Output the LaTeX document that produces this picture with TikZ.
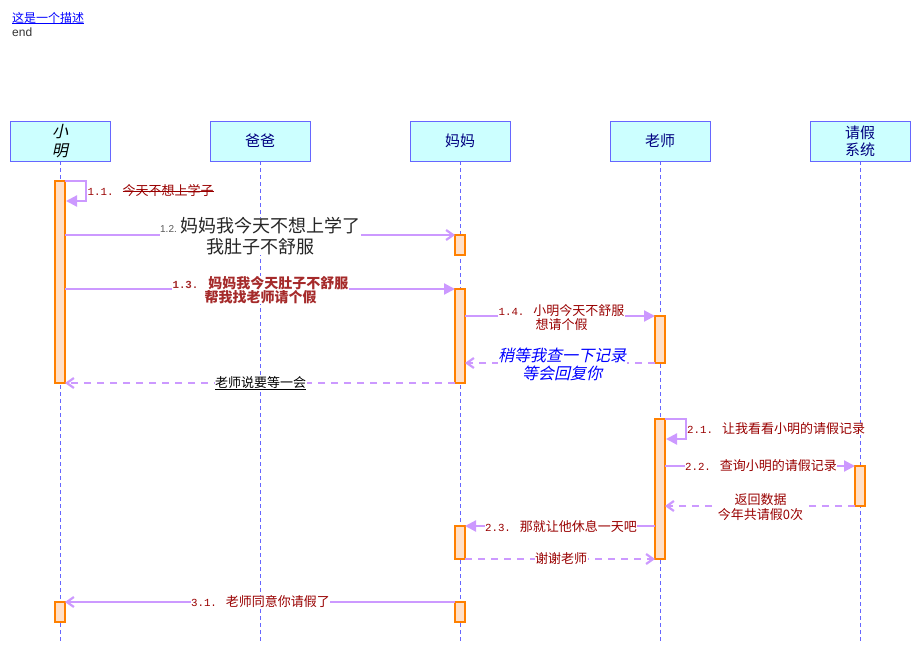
\documentclass[tikz,border=0pt]{standalone}
\usepackage{fontspec}
\setmainfont{Noto Sans CJK SC}
\newfontfamily\slantcjk[FakeSlant=0.22]{Noto Sans CJK SC}
\newfontfamily\monof{Liberation Mono}
\newfontfamily\arialf{Liberation Sans}
\usetikzlibrary{arrows.meta}
\definecolor{actorfill}{HTML}{CCFFFF}
\definecolor{actorline}{HTML}{6666FF}
\definecolor{actortext}{HTML}{000080}
\definecolor{barfill}{HTML}{FFE0C8}
\definecolor{barline}{HTML}{FF8000}
\definecolor{msgline}{HTML}{CC99FF}
\definecolor{msgtext}{HTML}{990000}
\definecolor{boldtext}{HTML}{A52A2A}
\newcommand{\fs}[2]{\fontsize{#1}{#2}\selectfont}
\newcommand{\num}[1]{{\monof\fontsize{10.8}{14}\selectfont #1}\hspace{9pt}}
\newcommand{\strikeit}[1]{\setbox0=\hbox{#1}\rlap{\rule[0.34em]{\wd0}{0.9pt}}\box0}
\newcommand{\underit}[1]{\setbox0=\hbox{#1}\rlap{\rule[-0.16em]{\wd0}{0.9pt}}\box0}
\tikzset{
  actorbox/.style={draw=actorline,fill=actorfill,line width=1pt,minimum width=100pt,minimum height=40pt,inner sep=0pt,outer sep=0pt,align=center,text=actortext},
  lifeline/.style={draw=actorline,line width=1pt,dash pattern=on 4pt off 3pt},
  bar/.style={draw=barline,fill=barfill,line width=1.3pt,minimum width=10pt,inner sep=0pt,outer sep=0pt,anchor=north},
  msgfilled/.style={draw=msgline,line width=2.2pt,-{Triangle[length=11pt,width=11pt]}},
  msgopen/.style={draw=msgline,line width=2.2pt,-{Straight Barb[length=7pt,width=10pt]}},
  msgdash/.style={msgopen,dash pattern=on 7pt off 6pt},
  msglabel/.style={fill=white,inner xsep=0.5pt,inner ysep=0pt,align=center,text=msgtext,font=\fs{13}{14}},
  boldlabel/.style={msglabel,text=boldtext,font=\fs{14}{14}\bfseries},
  bluelabel/.style={msglabel,text=blue,font=\slantcjk\fs{16}{18}},
  headtext/.style={inner sep=0pt,anchor=west,font=\fs{12}{14}}
}
\begin{document}
\begin{tikzpicture}[x=1pt,y=-1pt]
\useasboundingbox (0,0) rectangle (921,653);
\node[headtext,text=blue] (desc) at (12,18) {\underit{这是一个描述}};
\node[headtext,text=black!80,font=\arialf\fs{12}{14}] (endtxt) at (12,32) {end};
% actors
\node[actorbox,text=black,font=\slantcjk\fs{16}{19}] (xm) at (60,141) {\raisebox{-1.5pt}{小}\\\raisebox{-1.5pt}{明}};
\node[actorbox,font=\fs{15}{17}] (ba) at (260,141) {爸爸};
\node[actorbox,font=\fs{15}{17}] (ma) at (460,141) {妈妈};
\node[actorbox,font=\fs{15}{17}] (ls) at (660,141) {老师};
\node[actorbox,font=\fs{15}{17}] (xt) at (860,141) {请假\\系统};
% lifeline ends
\coordinate (xmend) at (60,641);
\coordinate (baend) at (260,641);
\coordinate (maend) at (460,641);
\coordinate (lsend) at (660,641);
\coordinate (xtend) at (860,641);
\draw[lifeline] (xm.south) -- (xmend);
\draw[lifeline] (ba.south) -- (baend);
\draw[lifeline] (ma.south) -- (maend);
\draw[lifeline] (ls.south) -- (lsend);
\draw[lifeline] (xt.south) -- (xtend);
% activation bars
\node[bar,minimum height=202pt] (xm1) at (60,181) {};
\node[bar,minimum height=20pt] (xm2) at (60,602) {};
\node[bar,minimum height=20pt] (ma1) at (460,235) {};
\node[bar,minimum height=94pt] (ma2) at (460,289) {};
\node[bar,minimum height=33pt] (ma3) at (460,526) {};
\node[bar,minimum height=20pt] (ma4) at (460,602) {};
\node[bar,minimum height=47pt] (ls1) at (660,316) {};
\node[bar,minimum height=140pt] (ls2) at (660,419) {};
\node[bar,minimum height=40pt] (xt1) at (860,466) {};
% connectors
\draw[msgfilled] (xm1.north east) -- ++(21,0) -- ++(0,20) -- ++(-20,0);
\draw[msgopen] (xm1.east |- ma1.north) -- (ma1.north west);
\draw[msgfilled] (xm1.east |- ma2.north) -- (ma2.north west);
\draw[msgfilled] (ma2.east |- ls1.north) -- (ls1.north west);
\draw[msgdash] (ls1.south west) -- (ma2.east |- ls1.south);
\draw[msgdash] (ma2.south west) -- (xm1.south east);
\draw[msgfilled] (ls2.north east) -- ++(21,0) -- ++(0,20) -- ++(-20,0);
\draw[msgfilled] (ls2.east |- xt1.north) -- (xt1.north west);
\draw[msgdash] (xt1.south west) -- (ls2.east |- xt1.south);
\draw[msgfilled] (ls2.west |- ma3.north) -- (ma3.north east);
\draw[msgdash] (ma3.south east) -- (ls2.south west);
\draw[msgopen] (ma4.north west) -- (xm2.north east);
% labels
\node[msglabel,anchor=west] (l11) at (87,191) {\num{1.1.}\strikeit{今天不想上学子}};
\node[msglabel,font=\fs{18}{21},text=black!85] (l12) at (260.5,236.5) {{\arialf\fs{10}{21}\color{black!65}1.2.\hspace{4pt}}妈妈我今天不想上学了\\我肚子不舒服};
\node[boldlabel] (l13) at (260.5,290) {{\monof\fontsize{10.8}{14}\selectfont 1.3.}\hspace{10pt}妈妈我今天肚子不舒服\\帮我找老师请个假};
\node[msglabel] (l14) at (561.5,318) {\num{1.4.}小明今天不舒服\\想请个假};
\node[bluelabel] (lb) at (562,364) {稍等我查一下记录\\等会回复你};
\node[msglabel,text=black] (lw) at (260.5,383) {\underit{老师说要等一会}};
\node[msglabel,anchor=west] (l21) at (686.5,429) {\num{2.1.}让我看看小明的请假记录};
\node[msglabel] (l22) at (761,466) {\num{2.2.}查询小明的请假记录};
\node[msglabel,font=\fs{13}{15}] (lr) at (760.5,507) {返回数据\\今年共请假0次};
\node[msglabel] (l23) at (561,526) {\num{2.3.}那就让他休息一天吧};
\node[msglabel] (lt) at (561,559) {谢谢老师};
\node[msglabel] (l31) at (260.5,602) {\num{3.1.}老师同意你请假了};
\end{tikzpicture}
\end{document}
